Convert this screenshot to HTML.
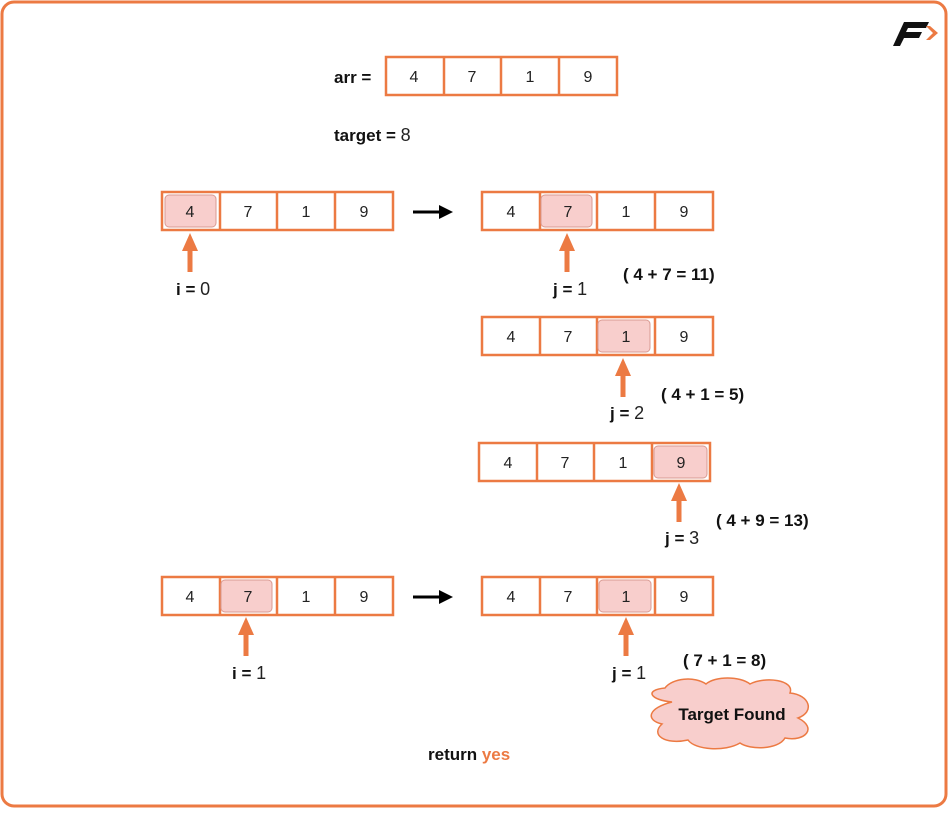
<!DOCTYPE html>
<html><head><meta charset="utf-8"><style>
body{margin:0;background:#fff;}
svg text{font-family:"Liberation Sans",sans-serif;}
.v{font-size:16px;fill:#222;text-anchor:middle;}
.b{font-size:17px;font-weight:bold;fill:#111;}
.n{font-size:18px;fill:#222;font-weight:normal;}
</style></head><body>
<svg width="949" height="809" viewBox="0 0 949 809" xmlns="http://www.w3.org/2000/svg">
<rect x="2" y="2" width="944" height="804" rx="12" fill="#fff" stroke="#ec7a43" stroke-width="3"/>
<!-- logo -->
<path d="M904 22 L929 22 L926 28 L908 28 L906 32 L922 32 L919 38 L904 38 L900 46 L893 46 Z" fill="#111"/>
<path d="M930 26 L938 33 L930 40 L926 40 L933 33 L926 26 Z" fill="#ec7a43"/>
<defs>
<g id="arr">
<rect x="0" y="0" width="231" height="38" fill="#fff" stroke="#ec7a43" stroke-width="2.5"/>
<line x1="58" y1="0" x2="58" y2="38" stroke="#ec7a43" stroke-width="2.5"/>
<line x1="115" y1="0" x2="115" y2="38" stroke="#ec7a43" stroke-width="2.5"/>
<line x1="173" y1="0" x2="173" y2="38" stroke="#ec7a43" stroke-width="2.5"/>
</g>
<g id="up"><polygon points="0,0 -8,18 -2.5,18 -2.5,39 2.5,39 2.5,18 8,18" fill="#ec7a43"/></g>
</defs>
<!-- arr -->
<text x="334" y="83" class="b">arr =</text>
<use href="#arr" x="386" y="57"/>
<text class="v" x="414" y="82">4</text><text class="v" x="472" y="82">7</text><text class="v" x="530" y="82">1</text><text class="v" x="588" y="82">9</text>
<text x="334" y="141" class="b">target = <tspan class="n">8</tspan></text>

<!-- row 1 left -->
<use href="#arr" x="162" y="192"/>
<rect x="165" y="195" width="51" height="32" rx="4" fill="#f8cecc" stroke="#d99a92"/>
<text class="v" x="190" y="217">4</text><text class="v" x="248" y="217">7</text><text class="v" x="306" y="217">1</text><text class="v" x="364" y="217">9</text>
<use href="#up" x="190" y="233"/>
<text x="176" y="295" class="b">i = <tspan class="n">0</tspan></text>
<line x1="413" y1="212" x2="440" y2="212" stroke="#000" stroke-width="3"/><polygon points="453,212 439,205 439,219" fill="#000"/>

<!-- row 1 right -->
<use href="#arr" x="482" y="192"/>
<rect x="541" y="195" width="51" height="32" rx="4" fill="#f8cecc" stroke="#d99a92"/>
<text class="v" x="511" y="217">4</text><text class="v" x="568" y="217">7</text><text class="v" x="626" y="217">1</text><text class="v" x="684" y="217">9</text>
<use href="#up" x="567" y="233"/>
<text x="553" y="295" class="b">j = <tspan class="n">1</tspan></text>
<text x="623" y="280" class="b">( 4 + 7 = 11)</text>

<!-- row 2 -->
<use href="#arr" x="482" y="317"/>
<rect x="598" y="320" width="52" height="32" rx="4" fill="#f8cecc" stroke="#d99a92"/>
<text class="v" x="511" y="342">4</text><text class="v" x="568" y="342">7</text><text class="v" x="626" y="342">1</text><text class="v" x="684" y="342">9</text>
<use href="#up" x="623" y="358"/>
<text x="610" y="419" class="b">j = <tspan class="n">2</tspan></text>
<text x="661" y="400" class="b">( 4 + 1 = 5)</text>

<!-- row 3 -->
<use href="#arr" x="479" y="443"/>
<rect x="654" y="446" width="53" height="32" rx="4" fill="#f8cecc" stroke="#d99a92"/>
<text class="v" x="508" y="468">4</text><text class="v" x="565" y="468">7</text><text class="v" x="623" y="468">1</text><text class="v" x="681" y="468">9</text>
<use href="#up" x="679" y="483"/>
<text x="665" y="544" class="b">j = <tspan class="n">3</tspan></text>
<text x="716" y="526" class="b">( 4 + 9 = 13)</text>

<!-- bottom left -->
<use href="#arr" x="162" y="577"/>
<rect x="221" y="580" width="51" height="32" rx="4" fill="#f8cecc" stroke="#d99a92"/>
<text class="v" x="190" y="602">4</text><text class="v" x="248" y="602">7</text><text class="v" x="306" y="602">1</text><text class="v" x="364" y="602">9</text>
<use href="#up" x="246" y="617"/>
<text x="232" y="679" class="b">i = <tspan class="n">1</tspan></text>
<line x1="413" y1="597" x2="440" y2="597" stroke="#000" stroke-width="3"/><polygon points="453,597 439,590 439,604" fill="#000"/>

<!-- bottom right -->
<use href="#arr" x="482" y="577"/>
<rect x="599" y="580" width="52" height="32" rx="4" fill="#f8cecc" stroke="#d99a92"/>
<text class="v" x="511" y="602">4</text><text class="v" x="568" y="602">7</text><text class="v" x="626" y="602">1</text><text class="v" x="684" y="602">9</text>
<use href="#up" x="626" y="617"/>
<text x="612" y="679" class="b">j = <tspan class="n">1</tspan></text>
<text x="683" y="666" class="b">( 7 + 1 = 8)</text>

<!-- cloud -->
<path d="M672 702 C650 700 644 690 665 688 C672 678 695 676 706 684 C715 676 740 676 750 684 C765 676 795 680 790 693 C810 695 815 712 798 718 C818 728 805 742 785 738 C778 750 750 750 740 743 C725 752 695 750 688 740 C665 745 650 735 662 724 C645 720 648 708 672 702 Z" fill="#f8cecc" stroke="#ec7a43" stroke-width="1.5"/>
<text x="732" y="720" class="b" text-anchor="middle">Target Found</text>

<text x="428" y="760" class="b">return <tspan fill="#ec7a43">yes</tspan></text>
</svg>
</body></html>
